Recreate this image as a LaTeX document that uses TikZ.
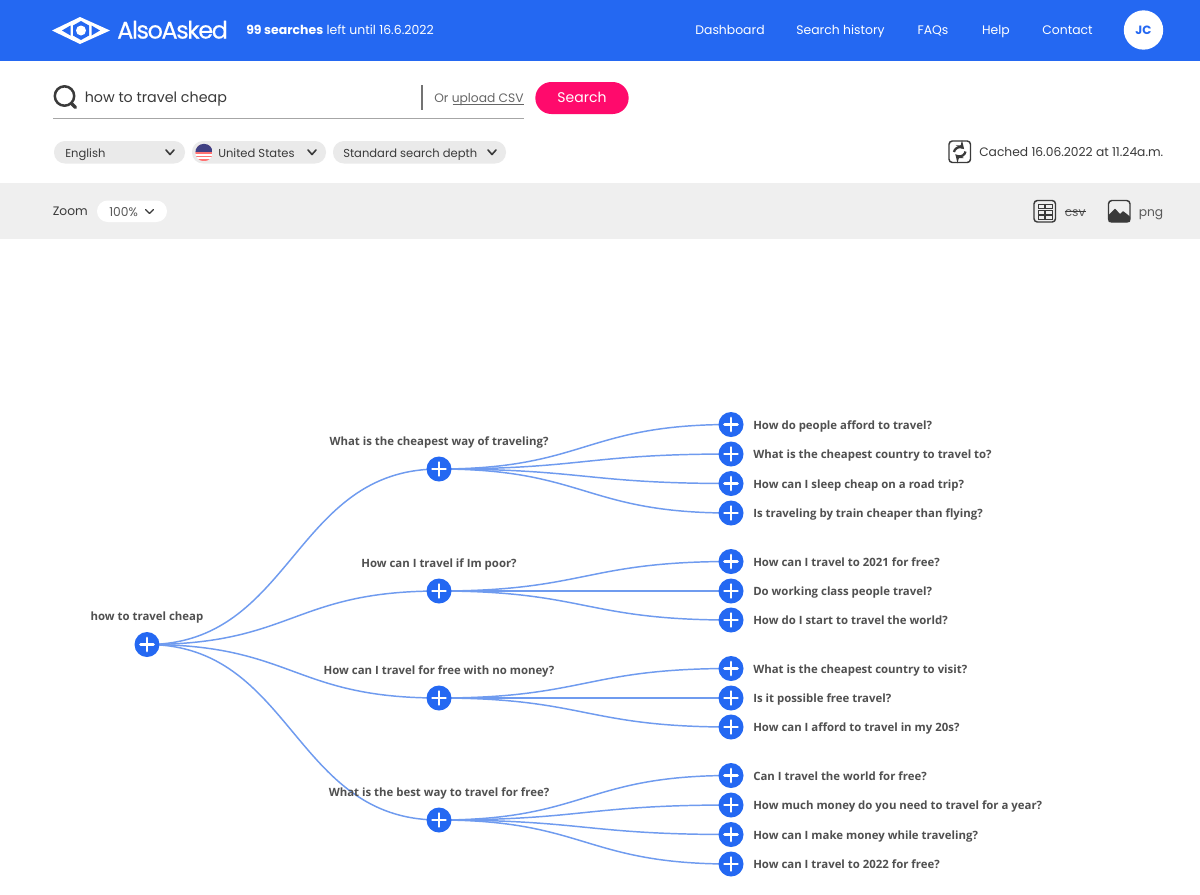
\documentclass[tikz,border=0pt]{standalone}
\usepackage{fontspec}
\setmainfont{Poppins}
\newfontfamily\graphfont{Open Sans}
\usetikzlibrary{calc,backgrounds}
\definecolor{brand}{HTML}{2468F2}
\definecolor{linkblue}{HTML}{6F9BEF}
\definecolor{band}{HTML}{EFEFEF}
\definecolor{pill}{HTML}{EAEAEA}
\definecolor{ink}{HTML}{3A3A3A}
\definecolor{hot}{HTML}{FF0A6C}
\definecolor{lbl}{HTML}{505050}
\tikzset{
  x=0.75pt,y=-0.75pt,
  plusbtn/.style={circle,fill=brand,minimum size=18.75pt,inner sep=0pt,
    path picture={
      \draw[white,line width=2.1pt,line cap=round]
        ($(path picture bounding box.center)+(-6.5,0)$) -- ($(path picture bounding box.center)+(6.5,0)$)
        ($(path picture bounding box.center)+(0,-6.5)$) -- ($(path picture bounding box.center)+(0,6.5)$);
    }},
  link/.style={draw=linkblue,line width=1.1pt},
  flat/.style={inner sep=0pt,text height=7.5pt,text depth=0.7pt},
  qlabel/.style={flat,font=\graphfont\bfseries\fontsize{8.55}{10}\selectfont,text=lbl},
  leaf/.style={qlabel,anchor=west},
  nav/.style={flat,font=\fontsize{9.3}{11}\selectfont,text=white},
  ui/.style={flat,font=\fontsize{8.65}{10}\selectfont,text=ink},
  uiwide/.style={flat,font=\fontsize{9.2}{11}\selectfont,text=ink},
  chev/.style={draw=ink,line width=1.2pt,line cap=round,line join=round},
  pillbox/.style={fill=pill,rounded corners=8.2pt}
}
\newcommand{\lnk}[2]{\draw[link] (#1.center) .. controls ($(#1.center)!.5!(#2.center|-#1.center)$) and ($(#2.center)!.5!(#1.center|-#2.center)$) .. (#2.center);}
\newcommand{\chevat}[2]{\draw[chev] (#1-4,#2-2.5) -- (#1,#2+2) -- (#1+4,#2-2.5);}
\begin{document}
\begin{tikzpicture}
\useasboundingbox (0,0) rectangle (1200,894);
% header
\fill[brand] (0,0) rectangle (1200,61);
\fill[white] (52,30.5) -- (80,17) -- (110,30.5) -- (80,44) -- cycle;
\fill[brand] (62,30.5) -- (70.5,25.5) -- (70.5,35.5) -- cycle;
\fill[brand] (100,30.5) -- (91.5,25.5) -- (91.5,35.5) -- cycle;
\fill[brand] (81,21) -- (89,25.5) -- (89,35.5) -- (81,40) -- (73,35.5) -- (73,25.5) -- cycle;
\fill[white] (81,30.5) circle[radius=5];
\node[flat,anchor=west,text=white,font=\fontsize{18}{20}\selectfont] (brandname) at (117,34) {\addfontfeature{LetterSpace=-6,FakeBold=0.4}AlsoAsked};
\node[nav,anchor=west,font=\fontsize{9.35}{11}\selectfont] (quota) at (246,30) {\textbf{99 searches} left until 16.6.2022};
\node[nav] (n1) at (730,30) {Dashboard};
\node[nav] (n2) at (840.5,30) {Search history};
\node[nav] (n3) at (933,30) {FAQs};
\node[nav] (n4) at (996,30) {Help};
\node[nav] (n5) at (1067.5,30) {Contact};
\node[circle,fill=white,minimum size=29.5pt,inner sep=0pt,text=brand,font=\bfseries\fontsize{9}{10}\selectfont] (avatar) at (1143.5,30) {JC};
% search row
\draw[ink,line width=1.9pt] (64.5,96) circle[radius=9.7];
\draw[ink,line width=2.4pt,line cap=round] (71.5,103.5) -- (75.5,107.5);
\node[flat,anchor=west,text=ink,font=\fontsize{10.7}{13}\selectfont] (query) at (84.5,98) {how to travel cheap};
\draw[black!35,line width=.8pt] (53,118.5) -- (524,118.5);
\draw[black!55,line width=.8pt] (422,85) -- (422,110);
\node[flat,anchor=west,text=black!60,font=\fontsize{9.2}{11}\selectfont] (upload) at (434,98) {Or upload CSV};
\draw[black!60,line width=.6pt] (452.5,104.5) -- (523.5,104.5);
\node[fill=hot,rounded corners=12pt,minimum width=70pt,minimum height=24pt,inner sep=0pt,text=white,text height=7.5pt,text depth=0.7pt,font=\fontsize{10.5}{12}\selectfont] (searchbtn) at (582,98) {Search};
% pills
\fill[pillbox] (54,141) rectangle (185,163.5);
\fill[pillbox] (192,141) rectangle (326,163.5);
\fill[pillbox] (333,141) rectangle (506,163.5);
\node[ui,anchor=west] (p1) at (65,152.5) {English};
\node[ui,anchor=west] (p2) at (218,152.5) {United States};
\node[ui,anchor=west] (p3) at (343,152.5) {Standard search depth};
\chevat{170}{152.5}
\chevat{312}{152.5}
\chevat{492}{152.5}
\begin{scope}
\clip (204,152.5) circle[radius=8.7];
\fill[white] (195,143) rectangle (213,162);
\foreach \yy in {145,148.5,152,155.5,159}{\fill[red!55!white] (195,\yy) rectangle (213,\yy+1.7);}
\fill[blue!35!black!75] (195,143) rectangle (213,151.5);
\end{scope}
% cached
\draw[ink,line width=1.1pt,rounded corners=2.5pt] (949,141) rectangle (970.5,162.5);
\draw[ink,line width=1.7pt,-stealth] (954,152) arc[start angle=190,end angle=320,radius=5.8];
\draw[ink,line width=1.7pt,-stealth] (965.5,151.5) arc[start angle=10,end angle=140,radius=5.8];
\node[uiwide,anchor=west] (cached) at (979,152) {Cached 16.06.2022 at 11.24a.m.};
% zoom band
\fill[band] (0,183) rectangle (1200,238.5);
\node[uiwide,anchor=west] (zoomlbl) at (52.5,211) {Zoom};
\fill[white,rounded corners=8pt] (97,200.5) rectangle (167,222);
\node[uiwide,anchor=west,text=black!65] (zoomval) at (109,212) {100\%};
\draw[chev,line width=1pt] (145.5,209.5) -- (149.5,213.5) -- (153.5,209.5);
\draw[ink,line width=1.1pt,rounded corners=2.5pt] (1034,200.5) rectangle (1055.5,222);
\foreach \cx in {1038,1045.5}{\foreach \cy in {204.5,210,215.5}{\draw[ink,line width=.6pt] (\cx,\cy) rectangle +(6.5,4);}}
\node[uiwide,anchor=west,text=black!65] (csvlbl) at (1064.5,211.5) {csv};
\draw[ink,line width=.7pt] (csvlbl.west) -- (csvlbl.east);
\draw[ink,line width=1.1pt,rounded corners=2.5pt] (1108.5,200.5) rectangle (1130,222);
\fill[ink,rounded corners=.5pt] (1108.5,222) -- (1108.5,215) -- (1115,208.5) -- (1120,214) -- (1123,211) -- (1130,216.5) -- (1130,222) -- cycle;
\node[uiwide,anchor=west,text=black!65] (pnglbl) at (1138.5,211.5) {png};
% tree nodes
\node[plusbtn] (root) at (147,644.5) {};
\node[plusbtn] (a) at (439,469) {};
\node[plusbtn] (b) at (439,591) {};
\node[plusbtn] (c) at (439,698) {};
\node[plusbtn] (d) at (439,820) {};
\node[plusbtn] (a1) at (731,424.5) {};
\node[plusbtn] (a2) at (731,454) {};
\node[plusbtn] (a3) at (731,483.5) {};
\node[plusbtn] (a4) at (731,513) {};
\node[plusbtn] (b1) at (731,561.5) {};
\node[plusbtn] (b2) at (731,591) {};
\node[plusbtn] (b3) at (731,620) {};
\node[plusbtn] (c1) at (731,668.5) {};
\node[plusbtn] (c2) at (731,698) {};
\node[plusbtn] (c3) at (731,727) {};
\node[plusbtn] (d1) at (731,775.5) {};
\node[plusbtn] (d2) at (731,805) {};
\node[plusbtn] (d3) at (731,834.5) {};
\node[plusbtn] (d4) at (731,864) {};
% links, below the buttons
\begin{scope}[on background layer]
\fill[white] (0,0) rectangle (1200,894);
\foreach \p/\q in {root/a,root/b,root/c,root/d,a/a1,a/a2,a/a3,a/a4,b/b1,b/b2,b/b3,c/c1,c/c2,c/c3,d/d1,d/d2,d/d3,d/d4}{\lnk{\p}{\q}}
\end{scope}
% labels
\node[qlabel] (lroot) at (147,616) {how to travel cheap};
\node[qlabel] (la) at (439,441) {What is the cheapest way of traveling?};
\node[qlabel] (lb) at (439,563) {How can I travel if Im poor?};
\node[qlabel] (lc) at (439,670) {How can I travel for free with no money?};
\node[qlabel] (ld) at (439,792) {What is the best way to travel for free?};
\node[leaf] (la1) at (753,424.5) {How do people afford to travel?};
\node[leaf] (la2) at (753,454) {What is the cheapest country to travel to?};
\node[leaf] (la3) at (753,483.5) {How can I sleep cheap on a road trip?};
\node[leaf] (la4) at (753,513) {Is traveling by train cheaper than flying?};
\node[leaf] (lb1) at (753,561.5) {How can I travel to 2021 for free?};
\node[leaf] (lb2) at (753,591) {Do working class people travel?};
\node[leaf] (lb3) at (753,620) {How do I start to travel the world?};
\node[leaf] (lc1) at (753,668.5) {What is the cheapest country to visit?};
\node[leaf] (lc2) at (753,698) {Is it possible free travel?};
\node[leaf] (lc3) at (753,727) {How can I afford to travel in my 20s?};
\node[leaf] (ld1) at (753,775.5) {Can I travel the world for free?};
\node[leaf] (ld2) at (753,805) {How much money do you need to travel for a year?};
\node[leaf] (ld3) at (753,834.5) {How can I make money while traveling?};
\node[leaf] (ld4) at (753,864) {How can I travel to 2022 for free?};
\end{tikzpicture}
\end{document}
